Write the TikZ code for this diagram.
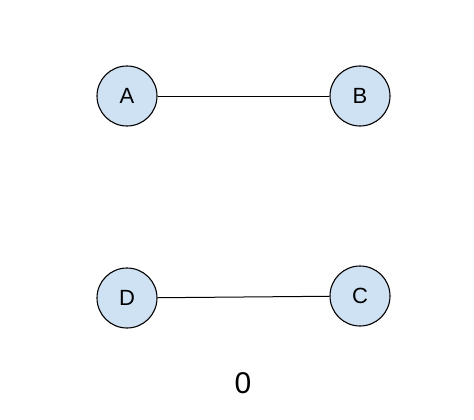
\documentclass[tikz,border=0pt]{standalone}
\usepackage{fontspec}
\setmainfont{Liberation Sans}
\usetikzlibrary{positioning}

\definecolor{nodeblue}{RGB}{207,226,243}
\tikzset{
    vertex/.style={draw,circle,fill=nodeblue,minimum size=60pt,inner sep=0pt,line width=1.1pt,font=\fontsize{22pt}{26pt}\selectfont},
    edge/.style={line width=1pt}
}

\begin{document}
\begin{tikzpicture}[x=1pt,y=-1pt]
            \useasboundingbox (0,0) rectangle (474,420);
            \node[vertex] (A) at (127,96) {A};
            \node[vertex] (B) at (360,96) {B};
            \node[vertex] (D) at (127,298) {D};
            \node[vertex] (C) at (360,296) {C};
            \node[font=\fontsize{30pt}{36pt}\selectfont] (count) at (243,383) {0};
            \draw[edge] (A) -- (B);
            \draw[edge] (D) -- (C);
        \end{tikzpicture}
\end{document}
